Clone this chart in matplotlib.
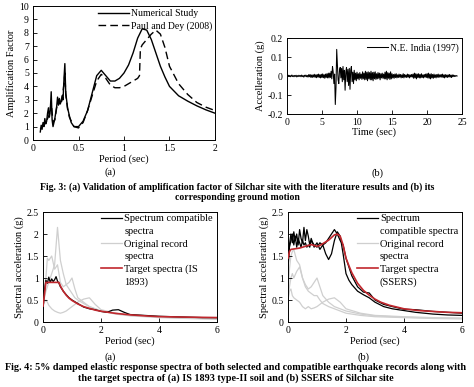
import numpy as np
import matplotlib
matplotlib.use("Agg")
import matplotlib.pyplot as plt
from matplotlib.lines import Line2D

plt.rcParams['font.family'] = ['Liberation Serif', 'DejaVu Serif']

# ---------------- Fig 3(a): amplification factor ----------------
period_num = [0.08, 0.09, 0.10, 0.11, 0.12, 0.13, 0.14, 0.15, 0.16, 0.17,
              0.18, 0.19, 0.20, 0.21, 0.22, 0.24, 0.26, 0.27, 0.28, 0.29,
              0.30, 0.31, 0.32, 0.33, 0.34, 0.35, 0.36, 0.38, 0.40, 0.42,
              0.45, 0.50, 0.55, 0.60, 0.65, 0.70, 0.75, 0.80, 0.85, 0.90,
              0.95, 1.00, 1.05, 1.10, 1.15, 1.20, 1.25, 1.30, 1.35, 1.40,
              1.45, 1.50, 1.60, 1.70, 1.80, 1.90, 2.00]
amp_num = [0.6, 1.1, 0.8, 1.3, 1.0, 1.6, 1.2, 1.4, 2.0, 2.4,
           1.7, 2.2, 3.6, 1.5, 1.0, 1.6, 2.5, 3.2, 2.6, 3.1,
           2.7, 2.9, 3.3, 3.0, 4.5, 5.7, 3.5, 2.4, 1.8, 1.3,
           1.0, 1.0, 1.4, 2.2, 3.5, 4.8, 5.2, 4.8, 4.4, 4.4,
           4.6, 5.0, 5.6, 6.5, 7.6, 8.3, 8.2, 7.5, 6.5, 5.5,
           4.7, 4.0, 3.3, 2.9, 2.55, 2.25, 2.0]
period_pd = [0.08, 0.10, 0.12, 0.14, 0.16, 0.18, 0.20, 0.22, 0.24, 0.26,
             0.28, 0.30, 0.32, 0.34, 0.35, 0.36, 0.38, 0.40, 0.45, 0.50,
             0.55, 0.60, 0.65, 0.70, 0.75, 0.80, 0.85, 0.90, 0.95, 1.00,
             1.05, 1.10, 1.15, 1.17, 1.18, 1.20, 1.25, 1.30, 1.35, 1.40,
             1.45, 1.50, 1.60, 1.70, 1.80, 1.90, 2.00]
amp_pd = [0.8, 1.0, 1.2, 1.3, 1.6, 1.9, 2.8, 1.3, 1.5, 2.4,
          3.0, 2.6, 3.0, 4.2, 5.0, 3.4, 2.3, 1.7, 1.0, 0.9,
          1.3, 2.2, 3.3, 4.4, 4.9, 4.6, 4.1, 3.9, 3.9, 4.0,
          4.2, 4.4, 4.6, 4.8, 6.8, 7.1, 7.5, 7.9, 8.2, 7.9,
          6.9, 5.5, 4.2, 3.4, 2.8, 2.45, 2.2]

# ---------------- Fig 3(b): ground motion ----------------
dt_sec = 0.1
accel_g = [
    0.002, -0.003, 0.004, -0.002, 0.003, -0.004, 0.002, 0.005, -0.003, 0.002,
    -0.004, 0.003, -0.002, 0.004, -0.005, 0.002, -0.003, 0.004, -0.002, 0.003,
    -0.004, 0.005, -0.003, 0.002, -0.006, 0.004, -0.002, 0.005, -0.004, 0.003,
    -0.006, 0.007, -0.004, 0.008, -0.007, 0.005, -0.008, 0.006, -0.005, 0.009,
    -0.007, 0.006, -0.009, 0.008, -0.006, 0.010, -0.008, 0.007, -0.010, 0.009,
    -0.008, 0.011, -0.009, 0.007, -0.012, 0.010, -0.008, 0.012, -0.010, 0.015,
    -0.010, 0.015, -0.008, 0.025, -0.015, 0.050, 0.020, -0.040, 0.010, -0.150,
    -0.060, 0.140, 0.060, -0.020, -0.040, 0.030, 0.045, -0.010, 0.040, -0.030,
    0.050, -0.020, 0.030, -0.075, 0.020, 0.045, -0.030, 0.035, -0.050, 0.040,
    -0.070, 0.030, 0.050, -0.030, 0.020, -0.040, 0.030, -0.020, 0.015, -0.025,
    0.020, -0.015, 0.012, -0.020, 0.018, -0.012, 0.010, -0.018, 0.022, -0.015,
    0.015, -0.020, 0.025, -0.018, 0.020, -0.025, 0.022, -0.015, 0.018, -0.020,
    0.025, -0.020, 0.018, -0.025, 0.020, -0.015, 0.022, -0.018, 0.012, -0.015,
    0.018, -0.012, 0.015, -0.020, 0.012, -0.010, 0.015, -0.012, 0.010, -0.015,
    0.020, -0.015, 0.025, -0.020, 0.018, -0.012, 0.015, -0.018, 0.022, -0.015,
    0.012, -0.010, 0.008, -0.012, 0.010, -0.008, 0.012, -0.010, 0.006, -0.008,
    0.010, -0.006, 0.008, -0.010, 0.006, -0.008, 0.012, -0.010, 0.008, -0.006,
    0.005, -0.008, 0.010, -0.006, 0.008, -0.010, 0.006, -0.005, 0.008, -0.006,
    0.010, -0.012, 0.015, -0.010, 0.012, -0.015, 0.010, -0.008, 0.012, -0.010,
    0.008, -0.010, 0.012, -0.008, 0.006, -0.010, 0.008, -0.006, 0.010, -0.008,
    0.012, -0.010, 0.015, -0.012, 0.010, -0.015, 0.012, -0.010, 0.008, -0.012,
    0.010, -0.008, 0.006, -0.010, 0.008, -0.006, 0.010, -0.008, 0.006, -0.005,
    0.008, -0.006, 0.010, -0.008, 0.006, -0.010, 0.008, -0.006, 0.005, -0.008,
    0.006, -0.005, 0.008, -0.006, 0.005, -0.008, 0.006, -0.004, 0.005, -0.003,
    0.003, -0.002, 0.002, 0.000]

# ---------------- Fig 4(a): IS 1893 ----------------
Ta_target = [0, 0.1, 0.55, 0.6, 0.7, 0.8, 0.9, 1.0, 1.2, 1.4, 1.6, 1.8, 2.0,
             2.5, 3.0, 3.5, 4.0, 5.0, 6.0]
Sa_a_target = [0.36, 0.90, 0.90, 0.82, 0.70, 0.61, 0.54, 0.49, 0.41, 0.35,
               0.31, 0.27, 0.245, 0.196, 0.163, 0.14, 0.122, 0.11, 0.10]
Ta_comp = [0, 0.05, 0.1, 0.15, 0.2, 0.25, 0.3, 0.35, 0.4, 0.45, 0.5, 0.55,
           0.6, 0.7, 0.8, 0.9, 1.0, 1.2, 1.4, 1.6, 1.8, 2.0, 2.2, 2.4, 2.6,
           2.8, 3.0, 3.5, 4.0, 4.5, 5.0, 5.5, 6.0]
Sa_a_comp = [0.30, 0.70, 0.95, 0.88, 1.02, 0.90, 0.98, 0.92, 0.96, 1.03,
             0.93, 0.88, 0.80, 0.70, 0.62, 0.55, 0.50, 0.42, 0.34, 0.30,
             0.28, 0.24, 0.22, 0.27, 0.28, 0.22, 0.17, 0.15, 0.13, 0.12,
             0.11, 0.10, 0.10]
T_orig = [0, 0.05, 0.1, 0.15, 0.2, 0.3, 0.4, 0.5, 0.6, 0.7, 0.8, 0.9, 1.0,
          1.1, 1.2, 1.4, 1.6, 1.8, 2.0, 2.5, 3.0, 4.0, 5.0, 6.0]
Sa_a_orig1 = [0.35, 0.55, 0.70, 0.80, 0.90, 1.10, 1.30, 2.15, 1.40, 1.10,
              0.85, 0.75, 0.65, 0.55, 0.50, 0.42, 0.35, 0.30, 0.25, 0.18,
              0.14, 0.10, 0.08, 0.06]
Sa_a_orig2 = [0.35, 0.80, 1.00, 1.45, 1.40, 1.50, 1.20, 1.30, 0.90, 0.80,
              0.85, 0.90, 1.00, 0.75, 0.55, 0.45, 0.35, 0.30, 0.25, 0.20,
              0.15, 0.12, 0.09, 0.07]
Sa_a_orig3 = [0.35, 0.45, 0.50, 0.45, 0.38, 0.30, 0.25, 0.22, 0.20, 0.22,
              0.25, 0.30, 0.35, 0.40, 0.45, 0.52, 0.55, 0.40, 0.28, 0.20,
              0.15, 0.11, 0.09, 0.08]

# ---------------- Fig 4(b): SSERS ----------------
Tb_target = [0, 0.05, 0.1, 0.2, 0.3, 0.4, 0.5, 0.6, 0.7, 0.8, 0.9, 1.0, 1.1,
             1.2, 1.3, 1.4, 1.5, 1.6, 1.7, 1.8, 1.9, 2.0, 2.1, 2.2, 2.4, 2.6,
             2.8, 3.0, 3.2, 3.5, 4.0, 4.5, 5.0, 5.5, 6.0]
Sa_b_target = [1.45, 1.60, 1.65, 1.66, 1.67, 1.68, 1.70, 1.72, 1.74, 1.76,
               1.74, 1.72, 1.74, 1.78, 1.82, 1.86, 1.92, 1.98, 2.00, 1.95,
               1.75, 1.45, 1.28, 1.12, 0.88, 0.72, 0.61, 0.52, 0.45, 0.38,
               0.30, 0.26, 0.24, 0.22, 0.21]
Tb_comp = [0, 0.05, 0.1, 0.15, 0.2, 0.25, 0.3, 0.35, 0.4, 0.45, 0.5, 0.55,
           0.6, 0.65, 0.7, 0.75, 0.8, 0.9, 1.0, 1.1, 1.2, 1.3, 1.4, 1.5, 1.6,
           1.7, 1.8, 1.9, 2.0, 2.1, 2.2, 2.4, 2.6, 2.8, 3.0, 3.3, 3.6, 4.0,
           4.4, 5.0, 5.5, 6.0]
Sa_b_comp1 = [1.20, 1.75, 2.00, 1.80, 2.05, 1.85, 2.00, 1.75, 2.10, 1.90,
              1.80, 2.15, 1.85, 2.10, 1.95, 1.75, 1.90, 1.70, 1.80, 1.65,
              1.75, 1.55, 1.42, 1.55, 1.85, 2.05, 1.95, 1.55, 1.10, 0.95,
              0.85, 0.70, 0.62, 0.55, 0.45, 0.35, 0.30, 0.26, 0.22, 0.18,
              0.16, 0.15]
Sa_b_comp2 = [1.30, 1.70, 1.85, 2.00, 1.75, 1.95, 1.70, 1.90, 1.80, 1.70,
              1.85, 1.75, 1.80, 1.70, 1.75, 1.70, 1.85, 1.75, 1.70, 1.80,
              1.75, 1.80, 1.90, 2.00, 2.10, 2.00, 1.85, 1.75, 1.45, 1.25,
              1.05, 0.80, 0.68, 0.66, 0.50, 0.40, 0.35, 0.29, 0.28, 0.24,
              0.22, 0.20]
Sa_b_orig1 = [0.60, 1.20, 1.50, 1.60, 1.65, 1.40, 1.30, 1.00, 0.80, 0.70,
              0.65, 0.60, 0.60, 0.50, 0.42, 0.35, 0.30, 0.25, 0.20, 0.15,
              0.12, 0.10, 0.08, 0.07]
Sa_b_orig2 = [0.50, 0.80, 1.00, 1.10, 1.00, 1.15, 1.25, 1.00, 0.85, 0.75,
              0.80, 0.90, 1.00, 0.80, 0.60, 0.45, 0.35, 0.30, 0.25, 0.18,
              0.14, 0.11, 0.09, 0.08]
Sa_b_orig3 = [0.50, 0.70, 0.75, 0.60, 0.55, 0.50, 0.45, 0.35, 0.30, 0.35,
              0.30, 0.32, 0.35, 0.40, 0.45, 0.52, 0.55, 0.45, 0.30, 0.20,
              0.15, 0.12, 0.10, 0.09]

legend_a = [['Spectrum compatible', 'spectra'],
            ['Original record', 'spectra'],
            ['Target spectra (IS', '1893)']]
legend_b = [['Spectrum', 'compatible spectra'],
            ['Original record', 'spectra'],
            ['Target spectra', '(SSERS)']]

W, H = 474, 387
fig = plt.figure(figsize=(W / 100, H / 100), dpi=100)


def px_axes(x0, y0, x1, y1):
    return fig.add_axes([x0 / W, 1 - y1 / H, (x1 - x0) / W, (y1 - y0) / H])


def style(ax):
    ax.tick_params(direction='in', labelsize=7, length=3, width=0.6, pad=3)
    for s in ax.spines.values():
        s.set_linewidth(0.7)


TS = 7
LS = 7.5
gray = '#cfcfcf'
red = '#c1272d'


def multiline_legend(ax, handles, texts, anchor):
    hs, ls = [], []
    blank = Line2D([], [], color='none')
    for hnd, lines in zip(handles, texts):
        hs.append(hnd)
        ls.append(lines[0])
        for extra in lines[1:]:
            hs.append(blank)
            ls.append(extra)
    ax.legend(hs, ls, loc='upper left', bbox_to_anchor=anchor, frameon=False,
              fontsize=7.5, handlelength=2.0, handletextpad=0.2, borderpad=0.1,
              labelspacing=0.32, borderaxespad=0)


# Fig 3(a)
ax1 = px_axes(33, 6, 215, 140)
ax1.plot(period_num, amp_num, color='black', lw=1.0, label='Numerical Study')
ax1.plot(period_pd, amp_pd, color='black', lw=1.0, ls=(0, (5.5, 3)),
         label='Paul and Dey (2008)')
ax1.set_xlim(0, 2)
ax1.set_ylim(0, 10)
ax1.set_xticks([0, 0.5, 1, 1.5, 2])
ax1.set_xticklabels(['0', '0.5', '1', '1.5', '2'])
ax1.set_yticks(range(0, 11))
ax1.set_xlabel('Period (sec)', fontsize=LS, labelpad=1)
ax1.set_ylabel('Amplification Factor', fontsize=LS, labelpad=2)
style(ax1)
ax1.legend(loc='upper left', bbox_to_anchor=(0.35, 0.985), frameon=False,
           fontsize=TS, handlelength=3.2, handletextpad=0.2, borderpad=0.1,
           labelspacing=0.3, borderaxespad=0)

# Fig 3(b)
ax2 = px_axes(287, 38, 462, 114)
time_sec = np.arange(len(accel_g)) * dt_sec
ax2.plot(time_sec, accel_g, color='black', lw=0.75, label='N.E. India (1997)')
ax2.set_xlim(0, 25)
ax2.set_ylim(-0.2, 0.2)
ax2.set_xticks([0, 5, 10, 15, 20, 25])
ax2.set_yticks([-0.2, -0.1, 0, 0.1, 0.2])
ax2.set_yticklabels(['-0.2', '-0.1', '0', '0.1', '0.2'])
ax2.set_xlabel('Time (sec)', fontsize=LS, labelpad=0)
ax2.set_ylabel('Accelleration (g)', fontsize=LS, labelpad=2)
style(ax2)
ax2.legend(loc='upper right', bbox_to_anchor=(1.0, 0.97), frameon=False,
           fontsize=TS, handlelength=2.2, handletextpad=0.2, borderpad=0.1,
           borderaxespad=0.2)

# Fig 4(a)
ax3 = px_axes(43, 212, 217, 322)
for s in [Sa_a_orig1, Sa_a_orig2, Sa_a_orig3]:
    g_line, = ax3.plot(T_orig, s, color=gray, lw=0.9, zorder=1)
k_line, = ax3.plot(Ta_comp, Sa_a_comp, color='black', lw=0.9, zorder=2)
r_line, = ax3.plot(Ta_target, Sa_a_target, color=red, lw=1.2, zorder=3)
ax3.set_xlim(0, 6)
ax3.set_ylim(0, 2.5)
ax3.set_xticks([0, 2, 4, 6])
ax3.set_yticks([0, 0.5, 1, 1.5, 2, 2.5])
ax3.set_yticklabels(['0', '0.5', '1', '1.5', '2', '2.5'])
ax3.set_xlabel('Period (sec)', fontsize=LS, labelpad=1)
ax3.set_ylabel('Spectral acceleration (g)', fontsize=LS, labelpad=2)
style(ax3)
multiline_legend(ax3, [k_line, g_line, r_line], legend_a, (0.33, 0.99))

# Fig 4(b)
ax4 = px_axes(288, 212, 462, 322)
for s in [Sa_b_orig1, Sa_b_orig2, Sa_b_orig3]:
    g_line, = ax4.plot(T_orig, s, color=gray, lw=0.9, zorder=1)
k_line, = ax4.plot(Tb_comp, Sa_b_comp1, color='black', lw=0.9, zorder=2)
ax4.plot(Tb_comp, Sa_b_comp2, color='black', lw=0.9, zorder=2)
r_line, = ax4.plot(Tb_target, Sa_b_target, color=red, lw=1.2, zorder=3)
ax4.set_xlim(0, 6)
ax4.set_ylim(0, 2.5)
ax4.set_xticks([0, 2, 4, 6])
ax4.set_yticks([0, 0.5, 1, 1.5, 2, 2.5])
ax4.set_yticklabels(['0', '0.5', '1', '1.5', '2', '2.5'])
ax4.set_xlabel('Period (sec)', fontsize=LS, labelpad=1)
ax4.set_ylabel('Spectral acceleration (g)', fontsize=LS, labelpad=2)
style(ax4)
multiline_legend(ax4, [k_line, g_line, r_line], legend_b, (0.39, 0.99))


# Sub-labels and captions
def ftext(x, y, s, **kw):
    fig.text(x / W, 1 - y / H, s, ha='center', va='center', **kw)


ftext(110, 172, '(a)', fontsize=LS)
ftext(377, 173, '(b)', fontsize=LS)
ftext(237, 187, 'Fig. 3: (a) Validation of amplification factor of Silchar site with the literature results and (b) its',
      fontsize=7, fontweight='bold')
ftext(237, 198, 'corresponding ground motion', fontsize=7, fontweight='bold')
ftext(110, 357, '(a)', fontsize=LS)
ftext(363, 357, '(b)', fontsize=LS)
ftext(236, 367, 'Fig. 4: 5% damped elastic response spectra of both selected and compatible earthquake records along with',
      fontsize=7.3, fontweight='bold')
ftext(236, 378, 'the target spectra of (a) IS 1893 type-II soil and (b) SSERS of Silchar site',
      fontsize=7.3, fontweight='bold')

fig.savefig('out.png', dpi=100)
